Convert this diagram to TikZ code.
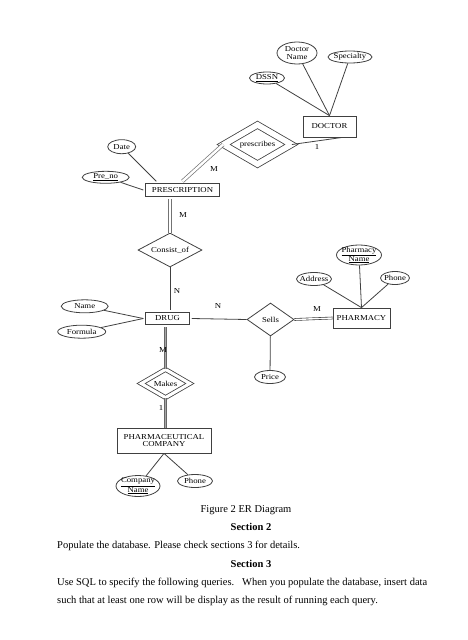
\documentclass[tikz,border=0pt]{standalone}
\usepackage{fontspec}
\setmainfont{Liberation Serif}
\newfontfamily\diagfam[FakeStretch=1.15]{Liberation Serif}
\usetikzlibrary{shapes.geometric,calc}
\begin{document}
\begin{tikzpicture}[x=1pt,y=-1pt,
  ln/.style={draw=black!75, line width=0.8pt},
  dfont/.style={font=\diagfam\fontsize{7.6}{8}\selectfont},
  attr/.style={ellipse, ln, inner sep=0pt},
  lbl/.style={dfont, inner sep=0pt, align=center},
  ent/.style={rectangle, ln, inner sep=0pt, dfont, align=center},
  wEnt/.style={ent, double, double distance=2.5pt},
  rel/.style={diamond, ln, inner sep=0pt, aspect=2, dfont},
  card/.style={dfont, inner sep=0pt},
  conn/.style={ln},
  tot/.style={draw=black!55, line width=0.7pt, double=white, double distance=2.4pt},
  heavy/.style={draw=black!60, line width=0.7pt, double=black!35, double distance=1pt},
  thin2/.style={draw=black!80, line width=0.6pt, double=white, double distance=1.4pt},
  body/.style={font=\fontsize{10.5}{12}\selectfont, inner sep=0pt},
]
\useasboundingbox (0,0) rectangle (468,640);

% entities
\node[ent, minimum width=53pt, minimum height=21pt] (doctor) at (329.5,126.5) {DOCTOR};
\node[wEnt, minimum width=77.7pt, minimum height=16.7pt] (presc) at (182.5,190) {PRESCRIPTION};
\node[wEnt, minimum width=47.7pt, minimum height=15.7pt] (drug) at (167.5,318.5) {DRUG};
\node[ent, minimum width=57pt, minimum height=20pt] (pharm) at (361.5,318) {PHARMACY};
\node[ent, minimum width=94pt, minimum height=25pt] (comp) at (164,440.5) {PHARMACEUTICAL\\[-0.5pt]COMPANY};

% relationships
\node[rel, double, double distance=5.6pt, minimum width=68pt, minimum height=39.6pt] (prescribes) at (257.5,144.5) {prescribes};
\node[rel, minimum width=64pt, minimum height=34pt] (cons) at (170,250) {Consist\_of};
\node[rel, minimum width=47pt, minimum height=33pt] (sells) at (270.5,319.5) {Sells};
\node[rel, double, double distance=3.1pt, minimum width=49pt, minimum height=28.5pt] (makes) at (165.5,383.5) {Makes};

% attributes
\node[attr, minimum width=40pt, minimum height=22pt, label={[lbl]center:Doctor\\[-0.5pt]Name}] (dname) at (297,53) {};
\node[attr, minimum width=44pt, minimum height=12pt, label={[lbl]center:Specialty}] (spec) at (350,57) {};
\node[attr, minimum width=35pt, minimum height=12pt, label={[lbl]center:\underline{DSSN}}] (dssn) at (267,78) {};
\node[attr, minimum width=28pt, minimum height=14pt, label={[lbl]center:Date}] (date) at (121.7,146.7) {};
\node[attr, minimum width=47pt, minimum height=12pt, label={[lbl]center:\underline{Pre\_no}}] (preno) at (105.7,177.3) {};
\node[attr, minimum width=47pt, minimum height=13pt, label={[lbl]center:Name}] (dnm) at (84.7,306.3) {};
\node[attr, minimum width=48pt, minimum height=13pt, label={[lbl]center:Formula}] (form) at (81.7,331.7) {};
\node[attr, minimum width=45pt, minimum height=20pt, label={[lbl]center:\underline{Pharmacy}\\[-0.5pt]\underline{Name}}] (pname) at (359,255) {};
\node[attr, minimum width=35pt, minimum height=13pt, label={[lbl]center:Address}] (addr) at (314,279) {};
\node[attr, minimum width=29pt, minimum height=13pt, label={[lbl]center:Phone}] (pphone) at (395,278) {};
\node[attr, minimum width=31pt, minimum height=13pt, label={[lbl]center:Price}] (price) at (270,377) {};
\node[attr, minimum width=44pt, minimum height=21pt, label={[lbl]center:\underline{Company}\\[-0.5pt]\underline{Name}}] (cname) at (138,486) {};
\node[attr, minimum width=35pt, minimum height=13pt, label={[lbl]center:Phone}] (cphone) at (195,481) {};

% attribute links
\draw[conn] (dname) -- (doctor.north);
\draw[conn] (spec) -- (doctor.north);
\draw[conn] (dssn) -- (doctor.north);
\draw[conn] (date) -- ($(presc.north west)+(13,0)$);
\draw[conn] (preno) -- (presc.west);
\draw[conn] (dnm) -- (drug.west);
\draw[conn] (form) -- (drug.west);
\draw[conn] (pname) -- (pharm.north);
\draw[conn] (addr) -- (pharm.north);
\draw[conn] (pphone) -- (pharm.north);
\draw[conn] (cname) -- (comp.south);
\draw[conn] (cphone) -- (comp.south);
\draw[conn] (sells) -- (price);

% relationship links
\draw[conn] (prescribes.east) -- ($(doctor.south west)!0.74!(doctor.south east)$);
\draw[tot] (prescribes.west) -- (presc.north);
\draw[tot] (cons.north) -- (cons.north |- presc.south);
\draw[conn] (cons.south) -- (cons.south |- drug.north);
\draw[conn] (drug.east) -- (sells.west);
\draw[thin2] (sells.east) -- (pharm.west);
\draw[heavy] (makes.north) -- (makes.north |- drug.south);
\draw[heavy] (makes.south) -- (makes.south |- comp.north);

% cardinalities
\node[card] (c1) at (317,147) {1};
\node[card] (c2) at (214,169) {M};
\node[card] (c3) at (183,215) {M};
\node[card] (c4) at (177,291) {N};
\node[card] (c5) at (218,306) {N};
\node[card] (c6) at (317,309) {M};
\node[card] (c7) at (163,350) {M};
\node[card] (c8) at (161,408) {1};

% text below
\node[body, anchor=base] (t1) at (246,512) {Figure 2 ER Diagram};
\node[body, anchor=base, font=\fontsize{10.5}{12}\selectfont\bfseries] (t2) at (251,530) {Section 2};
\node[body, anchor=base west] (t3) at (57,548) {Populate the database. Please check sections 3 for details.};
\node[body, anchor=base, font=\fontsize{10.5}{12}\selectfont\bfseries] (t4) at (251,567) {Section 3};
\node[body, anchor=base west] (t5) at (57,585) {Use SQL to specify the following queries.\ \ \ When you populate the database, insert data};
\node[body, anchor=base west] (t6) at (57,603) {such that at least one row will be display as the result of running each query.};
\end{tikzpicture}
\end{document}
